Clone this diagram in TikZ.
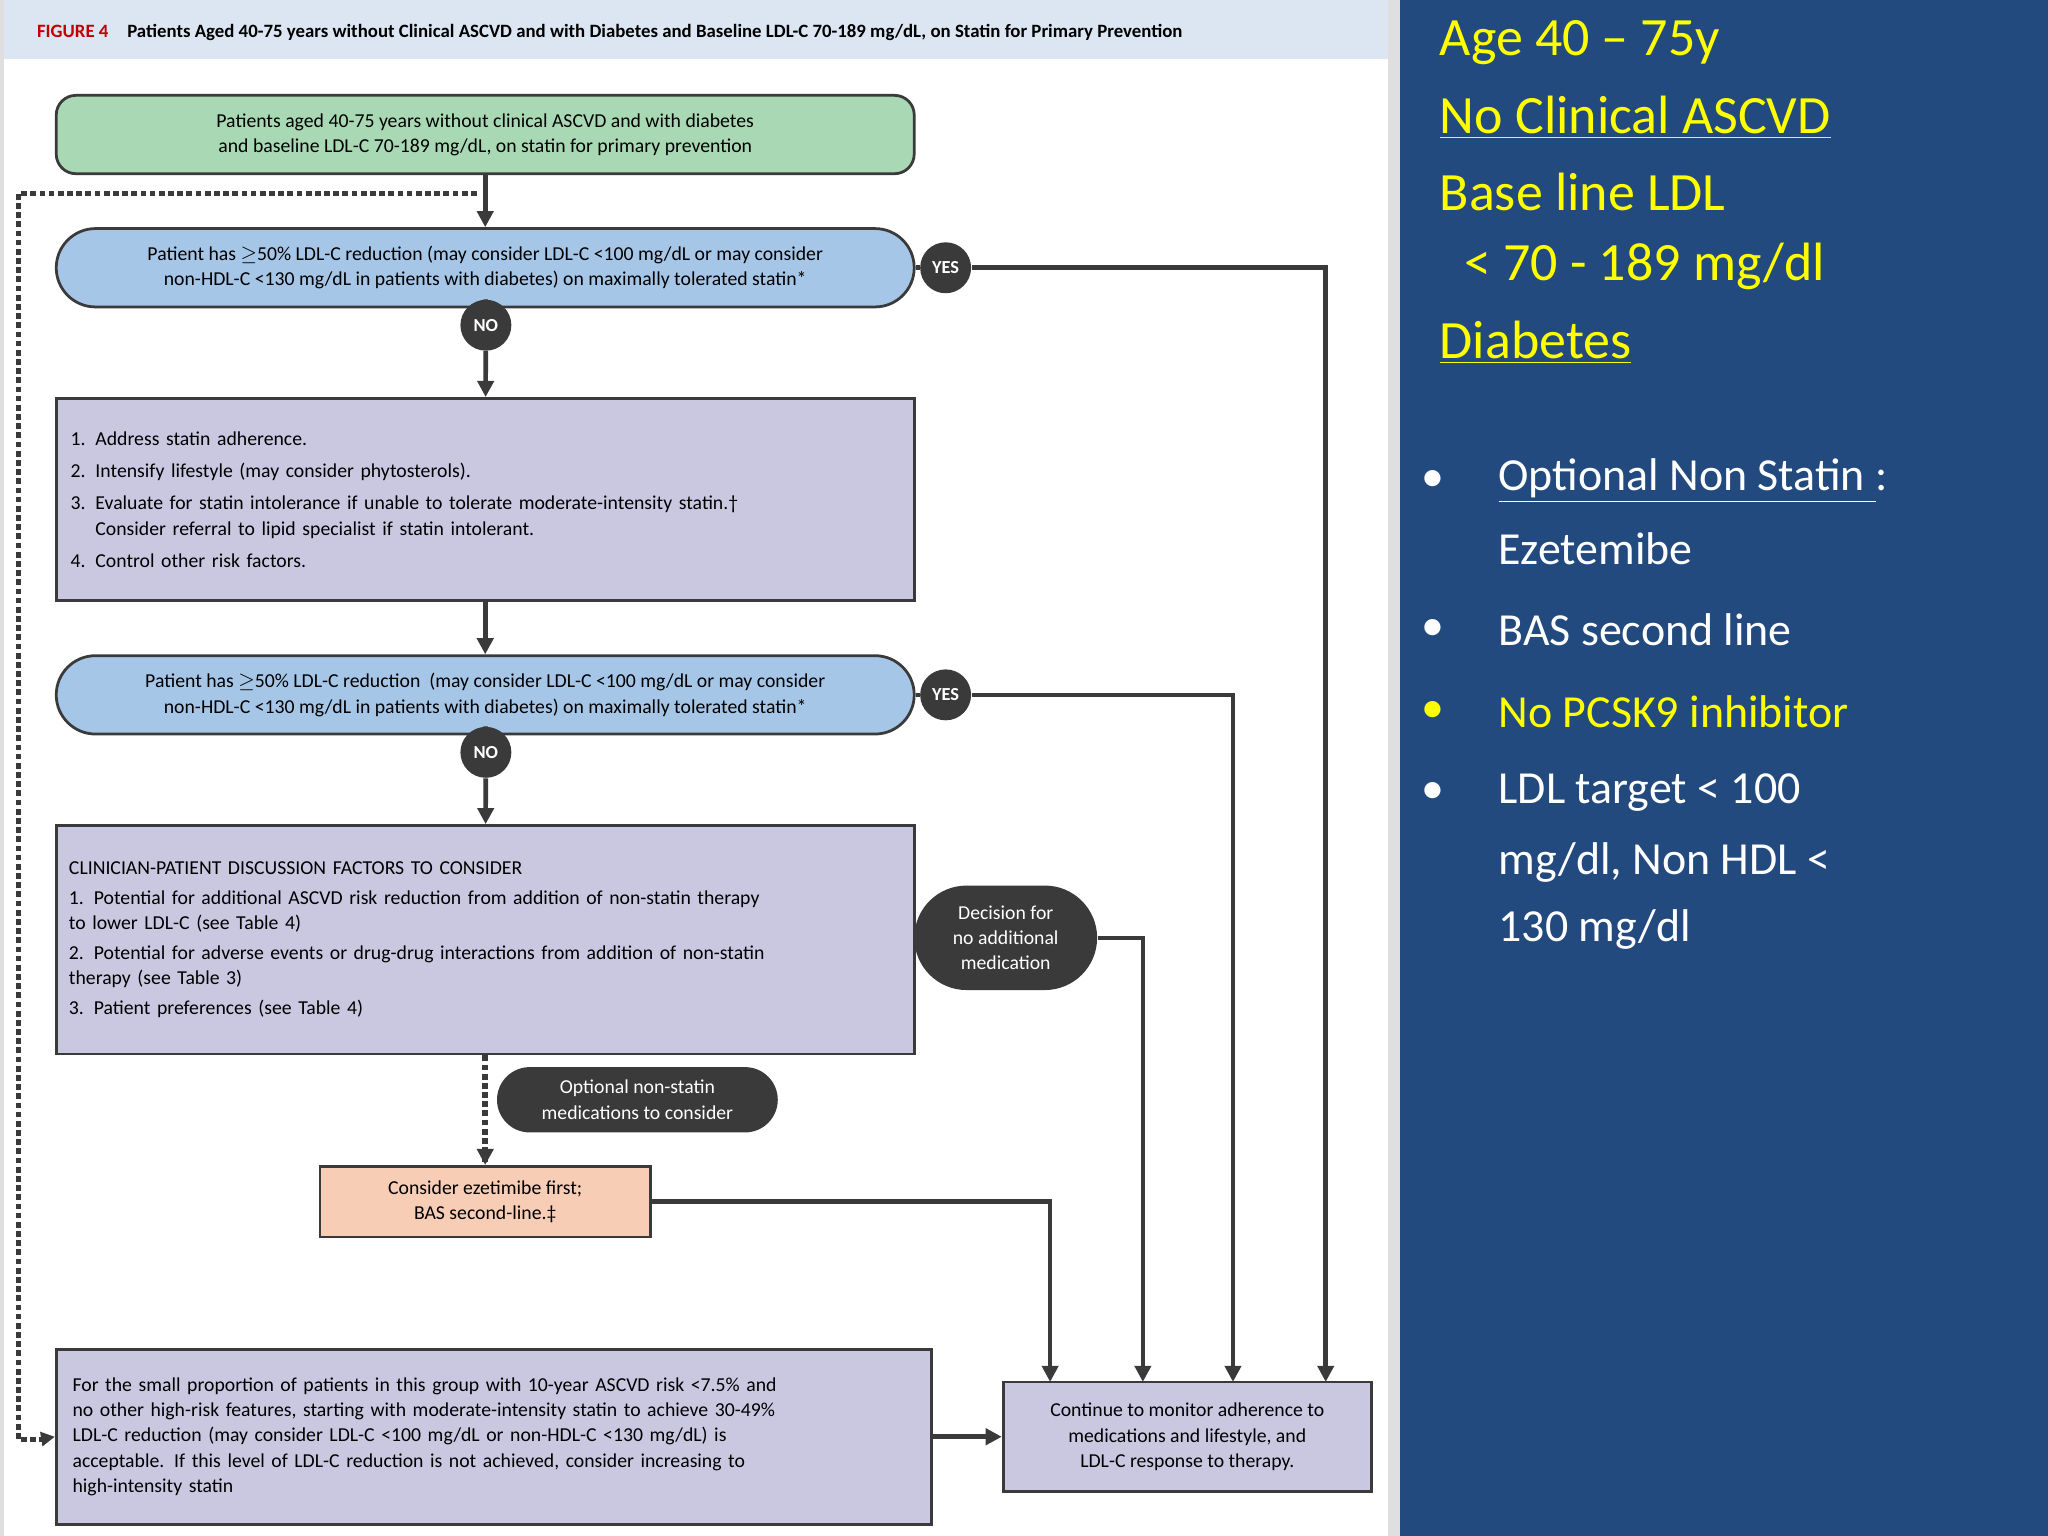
\documentclass[tikz,border=0pt]{standalone}
\usepackage{fontspec}
\setmainfont{Carlito}
\usetikzlibrary{arrows.meta,positioning,calc}
\definecolor{panel}{HTML}{234A7E}
\definecolor{arr}{HTML}{3A3A3A}
\definecolor{grn}{HTML}{A9D8B4}
\definecolor{blu}{HTML}{A6C6E8}
\definecolor{lav}{HTML}{CAC7E1}
\definecolor{pch}{HTML}{F8CDB6}
\definecolor{ttl}{HTML}{DCE6F2}
\definecolor{yel}{HTML}{FFFF00}
\tikzset{
  box/.style={draw=arr,line width=1.2pt,inner sep=0pt,font=\fontsize{8.6}{11}\selectfont,align=center},
  pill/.style={box,fill=blu,rounded corners=0.6cm},
  dark/.style={fill=arr,text=white,inner sep=0pt,align=center,font=\fontsize{8.6}{11}\selectfont},
  yn/.style={dark,circle,minimum size=0.78cm,font=\bfseries\fontsize{8}{9}\selectfont},
  ar/.style={draw=arr,line width=2pt,-{Triangle[length=7pt,width=7pt]}},
  ln/.style={draw=arr,line width=2pt},
  dt/.style={draw=arr,line width=2.4pt,dash pattern=on 2.5pt off 1.5pt},
  rt/.style={anchor=west,font=\fontsize{23.5}{28}\selectfont,inner sep=0pt},
  bt/.style={anchor=west,font=\fontsize{20}{24}\selectfont,inner sep=0pt,text=white}
}
\begin{document}
\begin{tikzpicture}[x=0.02cm,y=-0.02cm]
\useasboundingbox (0,0) rectangle (1568,1176);
\fill[gray!25] (0,0) rectangle (1568,1176);
\fill[white] (3,0) rectangle (1063,1176);
\fill[ttl] (3,0) rectangle (1063,45);
\fill[panel] (1072,0) rectangle (1568,1176);
\node[anchor=west,inner sep=0pt] (title) at (28,25) {\fontsize{8.2}{10}\selectfont\bfseries\textcolor{red!75!black}{FIGURE 4}\quad Patients Aged 40-75 years without Clinical ASCVD and with Diabetes and Baseline LDL-C 70-189 mg/dL, on Statin for Primary Prevention};

\node[box,fill=grn,rounded corners=0.3cm,minimum width=13.14cm,minimum height=1.2cm] (g) at (371.5,103) {Patients aged 40-75 years without clinical ASCVD and with diabetes\\and baseline LDL-C 70-189 mg/dL, on statin for primary prevention};
\node[pill,minimum width=13.14cm,minimum height=1.2cm] (p1) at (371.5,205) {Patient has $\geq$50\% LDL-C reduction (may consider LDL-C <100 mg/dL or may consider\\non-HDL-C <130 mg/dL in patients with diabetes) on maximally tolerated statin*};
\node[yn] (y1) at (724,205) {YES};
\node[yn] (n1) at (372,249) {NO};
\node[box,fill=lav,minimum width=13.14cm,minimum height=3.1cm,align=left,text width=12.7cm] (l) at (371.5,382.5) {1. Address statin adherence.\\[3pt]2. Intensify lifestyle (may consider phytosterols).\\[3pt]3. Evaluate for statin intolerance if unable to tolerate moderate-intensity statin.\dag\\\hphantom{3. }Consider referral to lipid specialist if statin intolerant.\\[3pt]4. Control other risk factors.};
\node[pill,minimum width=13.14cm,minimum height=1.2cm] (p2) at (371.5,532) {Patient has $\geq$50\% LDL-C reduction \ (may consider LDL-C <100 mg/dL or may consider\\non-HDL-C <130 mg/dL in patients with diabetes) on maximally tolerated statin*};
\node[yn] (y2) at (724,532) {YES};
\node[yn] (n2) at (372,576) {NO};
\node[box,fill=lav,minimum width=13.14cm,minimum height=3.5cm,align=left,text width=12.75cm] (d) at (371.5,719.5) {CLINICIAN-PATIENT DISCUSSION FACTORS TO CONSIDER\\[2pt]1. Potential for additional ASCVD risk reduction from addition of non-statin therapy\\to lower LDL-C (see Table 4)\\[2pt]2. Potential for adverse events or drug-drug interactions from addition of non-statin\\therapy (see Table 3)\\[2pt]3. Patient preferences (see Table 4)};
\node[dark,rounded corners=0.8cm,minimum width=2.8cm,minimum height=1.6cm] (dec) at (770,718) {Decision for\\no additional\\medication};
\node[dark,rounded corners=0.5cm,minimum width=4.3cm,minimum height=1cm] (opt) at (488,842) {Optional non-statin\\medications to consider};
\node[box,fill=pch,minimum width=5.06cm,minimum height=1.08cm] (pe) at (371.5,920) {Consider ezetimibe first;\\BAS second-line.\ddag};
\node[box,fill=lav,minimum width=13.4cm,minimum height=2.68cm,align=left,text width=12.9cm] (bl) at (378,1100) {For the small proportion of patients in this group with 10-year ASCVD risk <7.5\% and\\no other high-risk features, starting with moderate-intensity statin to achieve 30-49\%\\LDL-C reduction (may consider LDL-C <100 mg/dL or non-HDL-C <130 mg/dL) is\\acceptable. If this level of LDL-C reduction is not achieved, consider increasing to\\high-intensity statin};
\node[box,fill=lav,minimum width=5.64cm,minimum height=1.68cm] (c) at (909,1100) {Continue to monitor adherence to\\medications and lifestyle, and\\LDL-C response to therapy.};

\coordinate (c1) at (1015,1058);
\coordinate (c2) at (944,1058);
\coordinate (c3) at (875,1058);
\coordinate (c4) at (804,1058);
\coordinate (s) at (365,148);
\draw[ar] (g) -- (p1);
\draw[ln] (p1.east) -- (y1);
\draw[ar] (y1) -| (c1);
\draw[ln] (p1) -- (n1);
\draw[ar] (n1) -- (l);
\draw[ar] (l) -- (p2);
\draw[ln] (p2.east) -- (y2);
\draw[ar] (y2) -| (c2);
\draw[ln] (p2) -- (n2);
\draw[ar] (n2) -- (d);
\draw[ln] (d.east) -- (dec);
\draw[ar] (dec) -| (c3);
\draw[ar] (pe) -| (c4);
\draw[ar] (bl) -- (c);
\draw[dt] (d.south) -- (pe.north);
\draw[arr,-{Triangle[length=7pt,width=7pt]},line width=2pt] ($(pe.north)+(0,-10)$) -- (pe.north);
\draw[dt] (s) -- (14,148) -- (14,1102) -- (33,1102);
\draw[arr,line width=1.5pt,-{Triangle[length=6pt,width=6pt]}] (30,1102) -- (bl.west);

\node[rt,text=yel] (r1) at (1102,33) {Age 40 – 75y};
\node[rt,text=yel] (r2) at (1102,90) {\underline{No Clinical ASCVD}};
\node[rt,text=yel] (r3) at (1102,147) {Base line LDL};
\node[rt,text=yel] (r4) at (1102,204) {\ \ < 70 - 189 mg/dl};
\node[rt,text=yel] (r5) at (1102,262) {\underline{Diabetes}};
\foreach \y/\c in {368/white,482/white,545/yel,607/white}
  \node[bt,text=\c] at (1088,\y) {•};
\node[bt] (b1) at (1147,368) {\underline{Optional Non Statin }:};
\node[bt] (b1b) at (1147,420) {Ezetemibe};
\node[bt] (b2) at (1147,482) {BAS second line};
\node[bt,text=yel] (b3) at (1147,545) {No PCSK9 inhibitor};
\node[bt] (b4) at (1147,607) {LDL target < 100};
\node[bt] (b4b) at (1147,660) {mg/dl, Non HDL <};
\node[bt] (b4c) at (1147,712) {130 mg/dl};
\end{tikzpicture}
\end{document}
